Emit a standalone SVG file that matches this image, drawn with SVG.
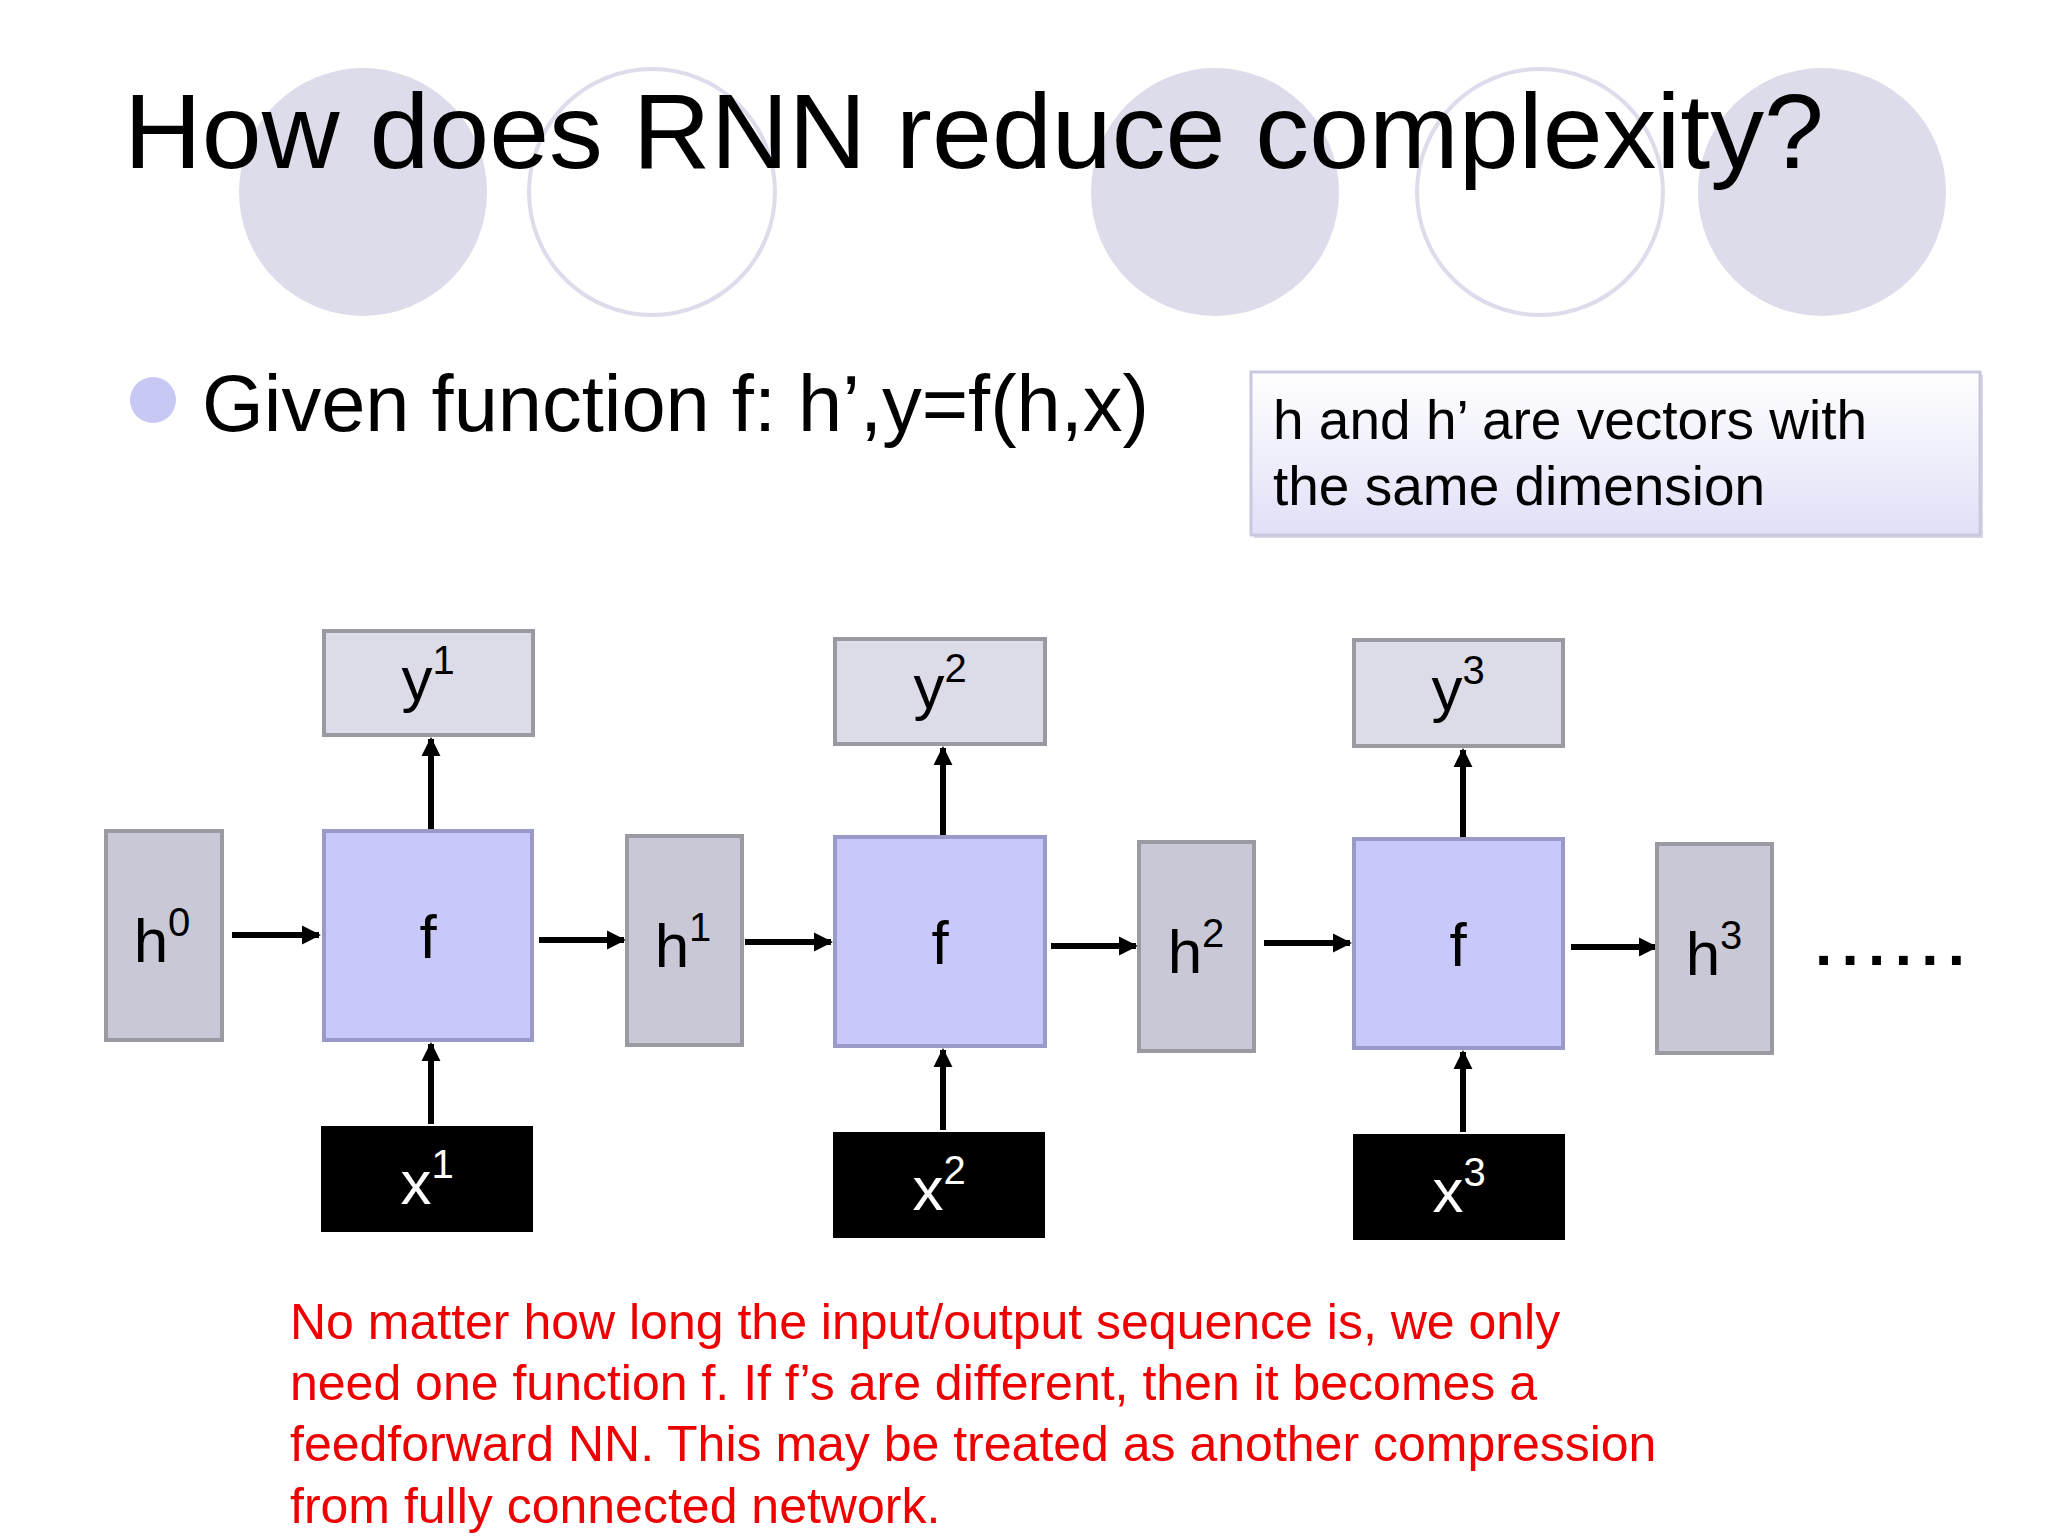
<svg xmlns="http://www.w3.org/2000/svg" width="2048" height="1536" viewBox="0 0 2048 1536">
<style>
text{font-family:"Liberation Sans",Arial,sans-serif;}
.h{fill:#c8c8d6;stroke:#9a9aa2;stroke-width:4}
.y{fill:#dcdce8;stroke:#9a9aa2;stroke-width:4}
.f{fill:#c8c8fa;stroke:#9a9ac8;stroke-width:4}
.x{fill:#000}
.lb{font-size:62px;fill:#000;text-anchor:middle}
.lw{font-size:62px;fill:#fff;text-anchor:middle}
.c line{stroke:#000;stroke-width:6;marker-end:url(#a)}
.red{font-size:50px;fill:#ee0000}
</style>
<defs>
<marker id="a" viewBox="0 0 10 10" refX="9" refY="5" markerWidth="3.2" markerHeight="3.2" orient="auto" markerUnits="strokeWidth"><path d="M0,0L10,5L0,10z" fill="#000"/></marker>
<linearGradient id="g" x1="0" y1="0" x2="0" y2="1"><stop offset="0" stop-color="#fff"/><stop offset="1" stop-color="#e0e0f8"/></linearGradient>
</defs>
<rect width="2048" height="1536" fill="#fff"/>
<g id="deco">
<circle cx="363" cy="192" r="124" fill="#dcdcea"/>
<circle cx="652" cy="192" r="123" fill="none" stroke="#dcdcea" stroke-width="4"/>
<circle cx="1215" cy="192" r="124" fill="#dcdcea"/>
<circle cx="1540" cy="192" r="123" fill="none" stroke="#dcdcea" stroke-width="4"/>
<circle cx="1822" cy="192" r="124" fill="#dcdcea"/>
<circle cx="153" cy="400" r="23" fill="#c8c8f5"/>
</g>
<text x="124" y="168" font-size="106" textLength="1700" lengthAdjust="spacingAndGlyphs">How does RNN reduce complexity?</text>
<text x="202" y="431" font-size="80" textLength="947" lengthAdjust="spacingAndGlyphs">Given function f: h’,y=f(h,x)</text>
<g id="note">
<rect x="1254" y="375" width="729" height="163" fill="#d8d8e4"/>
<rect x="1251" y="372" width="729" height="163" fill="url(#g)" stroke="#c8c8e0" stroke-width="3"/>
<text x="1273" y="439" font-size="55">h and h’ are vectors with</text>
<text x="1273" y="505" font-size="55">the same dimension</text>
</g>
<g class="c" id="connectors">
<line x1="232" y1="935" x2="319" y2="935"/>
<line x1="539" y1="940" x2="624" y2="940"/>
<line x1="745" y1="942" x2="831" y2="942"/>
<line x1="1051" y1="946" x2="1136" y2="946"/>
<line x1="1264" y1="943" x2="1350" y2="943"/>
<line x1="1571" y1="947" x2="1656" y2="947"/>
<line x1="431" y1="829" x2="431" y2="739"/>
<line x1="431" y1="1124" x2="431" y2="1044"/>
<line x1="943" y1="835" x2="943" y2="748"/>
<line x1="943" y1="1130" x2="943" y2="1050"/>
<line x1="1463" y1="837" x2="1463" y2="750"/>
<line x1="1463" y1="1132" x2="1463" y2="1052"/>
</g>
<g id="h0"><rect class="h" x="106" y="831" width="116" height="209"/><text class="lb" x="162" y="962">h<tspan font-size="40" dy="-26">0</tspan></text></g>
<g id="y1"><rect class="y" x="324" y="631" width="209" height="104"/><text class="lb" x="428" y="700">y<tspan font-size="40" dy="-26">1</tspan></text></g>
<g id="f1"><rect class="f" x="324" y="831" width="208" height="209"/><text class="lb" x="428" y="958">f</text></g>
<g id="x1"><rect class="x" x="321" y="1126" width="212" height="106"/><text class="lw" x="427" y="1204">x<tspan font-size="40" dy="-26">1</tspan></text></g>
<g id="h1"><rect class="h" x="627" y="836" width="115" height="209"/><text class="lb" x="683" y="967">h<tspan font-size="40" dy="-26">1</tspan></text></g>
<g id="y2"><rect class="y" x="835" y="639" width="210" height="105"/><text class="lb" x="940" y="708">y<tspan font-size="40" dy="-26">2</tspan></text></g>
<g id="f2"><rect class="f" x="835" y="837" width="210" height="209"/><text class="lb" x="940" y="964">f</text></g>
<g id="x2"><rect class="x" x="833" y="1132" width="212" height="106"/><text class="lw" x="939" y="1210">x<tspan font-size="40" dy="-26">2</tspan></text></g>
<g id="h2"><rect class="h" x="1139" y="842" width="115" height="209"/><text class="lb" x="1196" y="973">h<tspan font-size="40" dy="-26">2</tspan></text></g>
<g id="y3"><rect class="y" x="1354" y="640" width="209" height="106"/><text class="lb" x="1458" y="710">y<tspan font-size="40" dy="-26">3</tspan></text></g>
<g id="f3"><rect class="f" x="1354" y="839" width="209" height="209"/><text class="lb" x="1458" y="966">f</text></g>
<g id="x3"><rect class="x" x="1353" y="1134" width="212" height="106"/><text class="lw" x="1459" y="1212">x<tspan font-size="40" dy="-26">3</tspan></text></g>
<g id="h3"><rect class="h" x="1657" y="844" width="115" height="209"/><text class="lb" x="1714" y="975">h<tspan font-size="40" dy="-26">3</tspan></text></g>
<text x="1815" y="965" font-size="62" font-weight="bold" textLength="150" lengthAdjust="spacing">......</text>
<g id="note2">
<text class="red" x="290" y="1339">No matter how long the input/output sequence is, we only</text>
<text class="red" x="290" y="1400">need one function f. If f’s are different, then it becomes a</text>
<text class="red" x="290" y="1461">feedforward NN. This may be treated as another compression</text>
<text class="red" x="290" y="1523">from fully connected network.</text>
</g>
</svg>
